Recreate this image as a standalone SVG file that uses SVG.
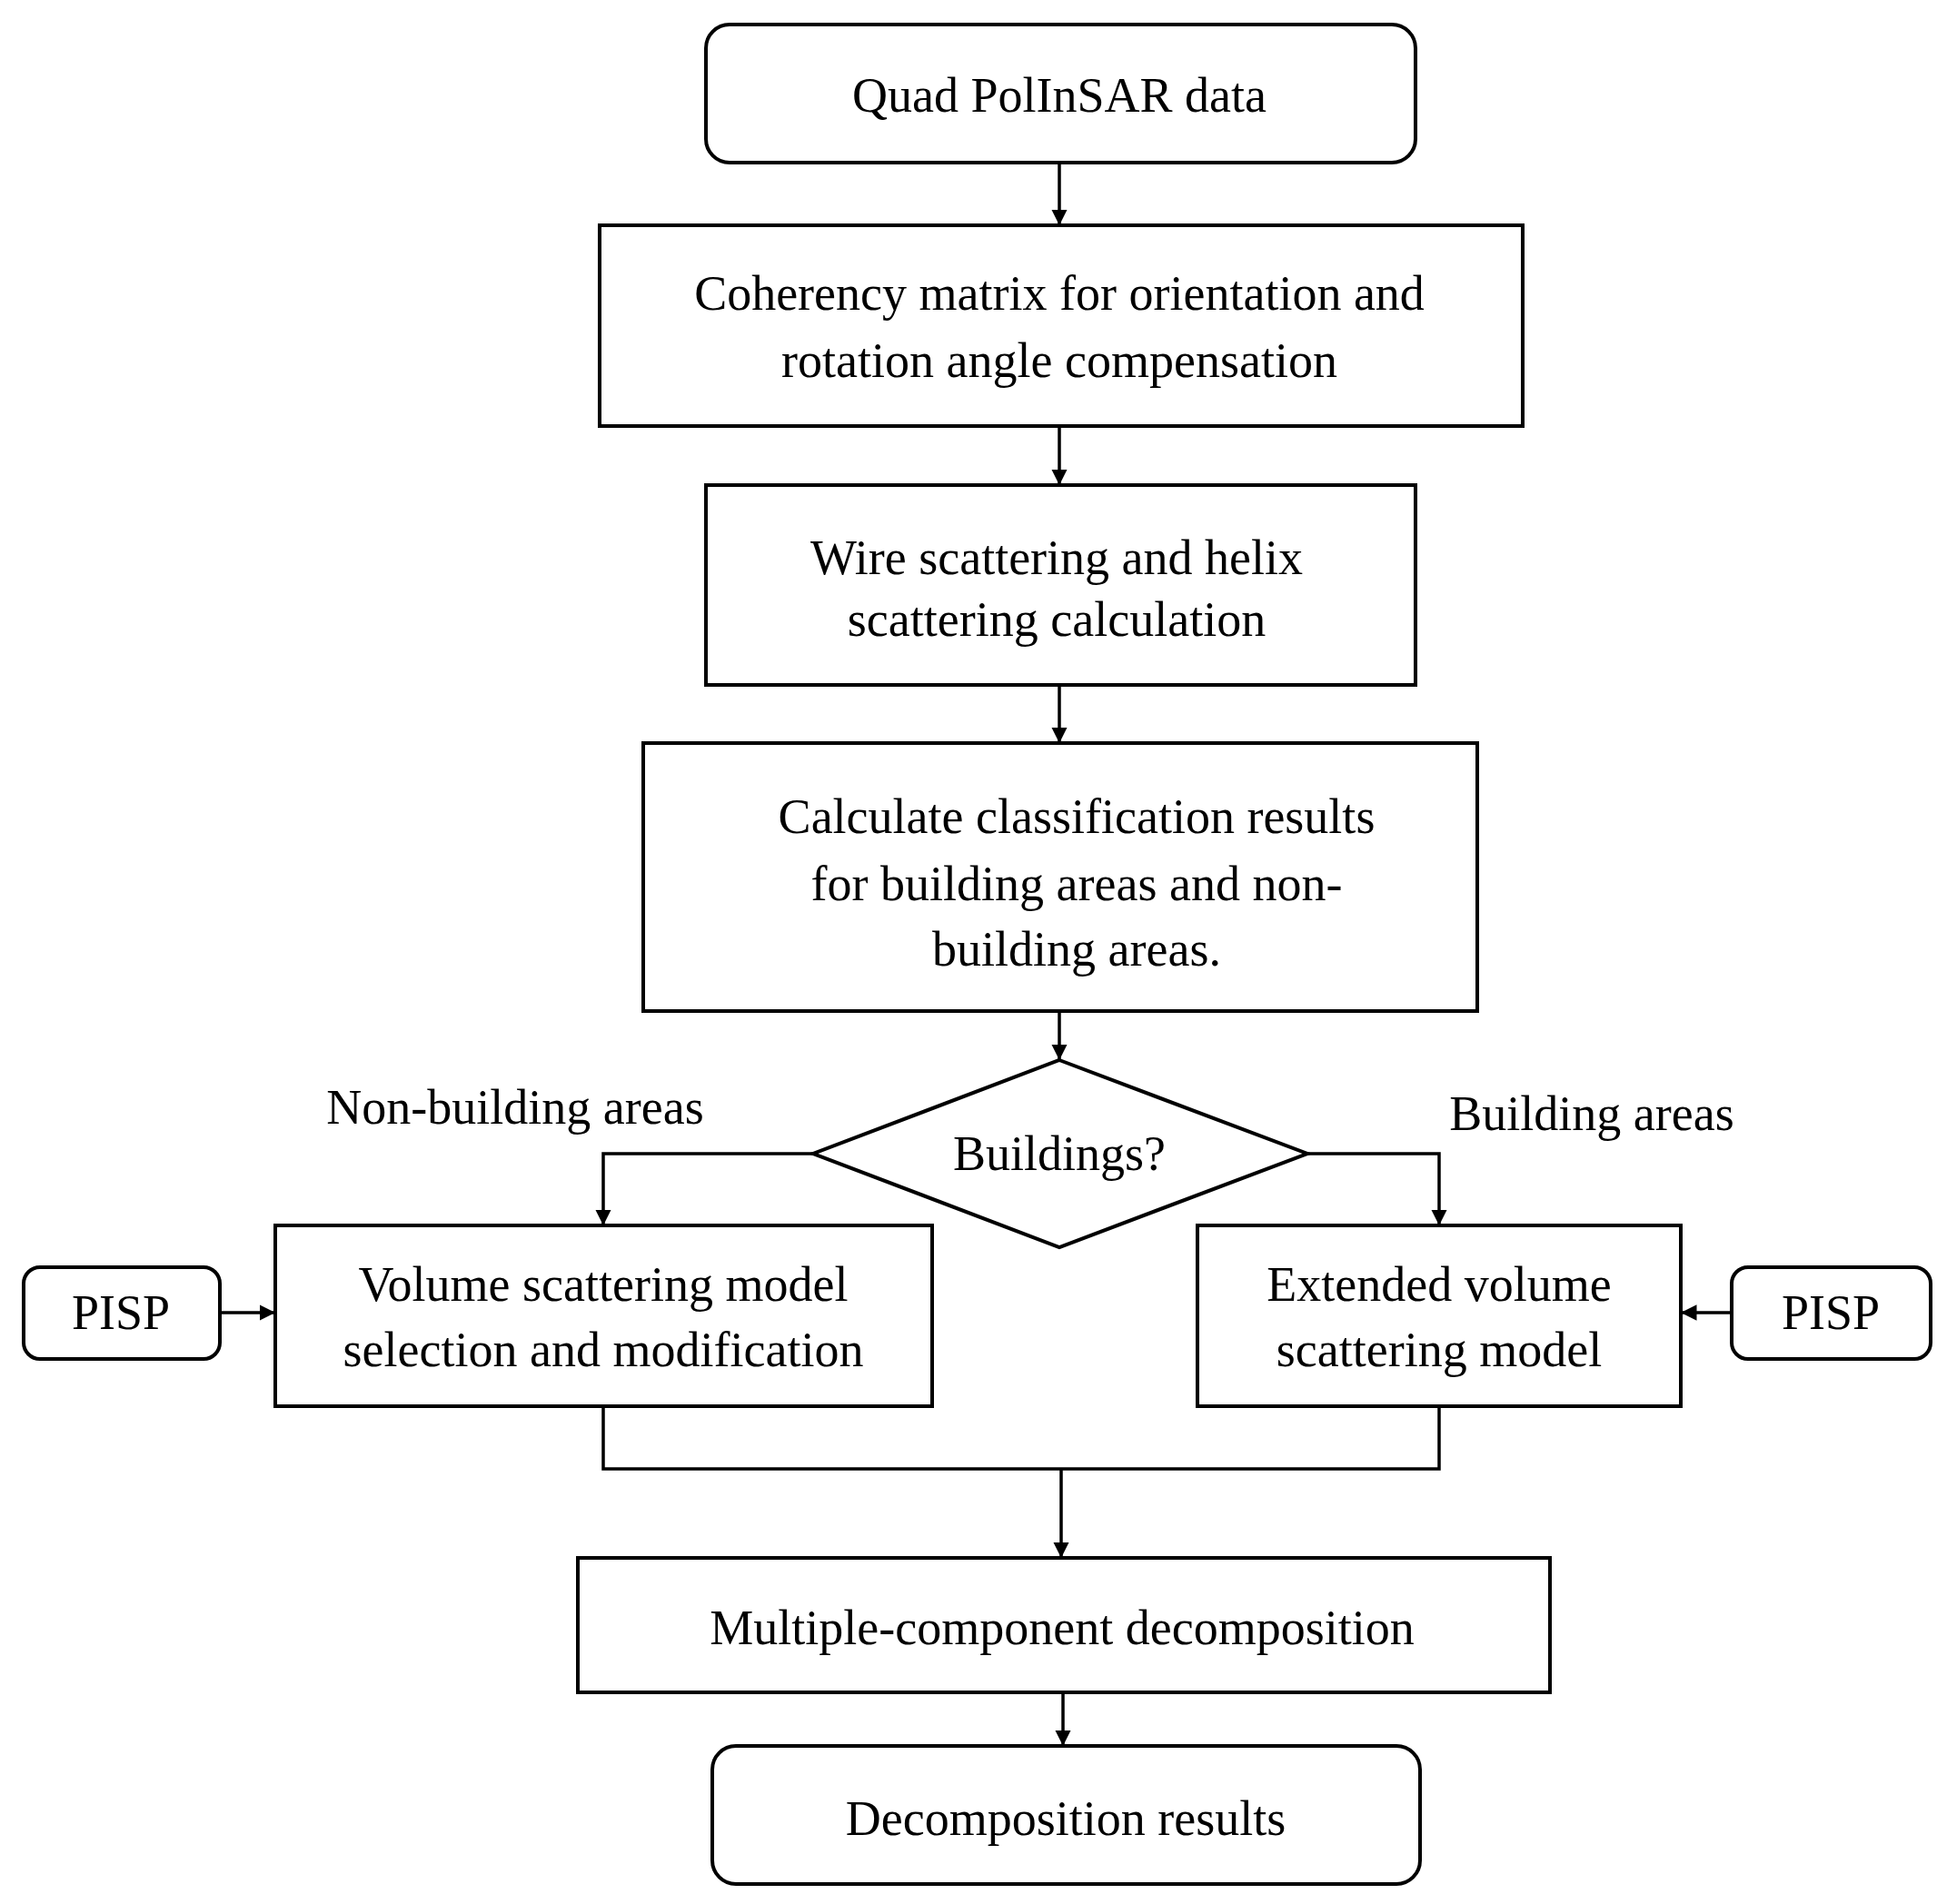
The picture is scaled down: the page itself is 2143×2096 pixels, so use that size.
<svg xmlns="http://www.w3.org/2000/svg" width="2143" height="2096" viewBox="0 0 2143 2096">
<style>
.b{fill:#fff;stroke:#000;stroke-width:4}
.c{fill:none;stroke:#000;stroke-width:3.5}
text{font-family:"Liberation Serif",serif;font-size:54px;text-anchor:middle;fill:#000}
</style>
<defs><marker id="a" viewBox="0 0 10 10" refX="10" refY="5" markerWidth="5" markerHeight="5" orient="auto"><path d="M0,0L10,5L0,10z"/></marker></defs>
<rect width="2143" height="2096" fill="#fff"/>
<g id="connectors" class="c">
<path d="M1166,179V248" marker-end="url(#a)"/>
<path d="M1166,469V534" marker-end="url(#a)"/>
<path d="M1166,754V818" marker-end="url(#a)"/>
<path d="M1166,1113V1167" marker-end="url(#a)"/>
<path d="M895,1270H664V1349" marker-end="url(#a)"/>
<path d="M1439,1270H1584V1349" marker-end="url(#a)"/>
<path d="M242,1445H303" marker-end="url(#a)"/>
<path d="M1906,1445H1850" marker-end="url(#a)"/>
<path d="M664,1548V1617H1584V1548"/>
<path d="M1168,1617V1715" marker-end="url(#a)"/>
<path d="M1170,1863V1922" marker-end="url(#a)"/>
</g>
<g id="n1"><rect class="b" x="777" y="27" width="781" height="152" rx="26"/><text x="1166" y="123">Quad PolInSAR data</text></g>
<g id="n2"><rect class="b" x="660" y="248" width="1016" height="221"/><text x="1166" y="341">Coherency matrix for orientation and</text><text x="1166" y="415">rotation angle compensation</text></g>
<g id="n3"><rect class="b" x="777" y="534" width="781" height="220"/><text x="1163" y="632">Wire scattering and helix</text><text x="1163" y="700">scattering calculation</text></g>
<g id="n4"><rect class="b" x="708" y="818" width="918" height="295"/><text x="1185" y="917">Calculate classification results</text><text x="1185" y="991">for building areas and non-</text><text x="1185" y="1063">building areas.</text></g>
<g id="d"><polygon class="b" points="1166,1167 1439,1270 1166,1373 895,1270"/><text x="1166" y="1288">Buildings?</text></g>
<g id="l1"><text x="567" y="1237">Non-building areas</text></g>
<g id="l2"><text x="1752" y="1244">Building areas</text></g>
<g id="n5"><rect class="b" x="303" y="1349" width="723" height="199"/><text x="664" y="1432">Volume scattering model</text><text x="664" y="1504">selection and modification</text></g>
<g id="n6"><rect class="b" x="1318" y="1349" width="532" height="199"/><text x="1584" y="1432">Extended volume</text><text x="1584" y="1504">scattering model</text></g>
<g id="p1"><rect class="b" x="26" y="1395" width="216" height="101" rx="18"/><text x="133" y="1463">PISP</text></g>
<g id="p2"><rect class="b" x="1906" y="1395" width="219" height="101" rx="18"/><text x="2015" y="1463">PISP</text></g>
<g id="n7"><rect class="b" x="636" y="1715" width="1070" height="148"/><text x="1169" y="1810">Multiple-component decomposition</text></g>
<g id="n8"><rect class="b" x="784" y="1922" width="779" height="152" rx="26"/><text x="1173" y="2020">Decomposition results</text></g>
</svg>
